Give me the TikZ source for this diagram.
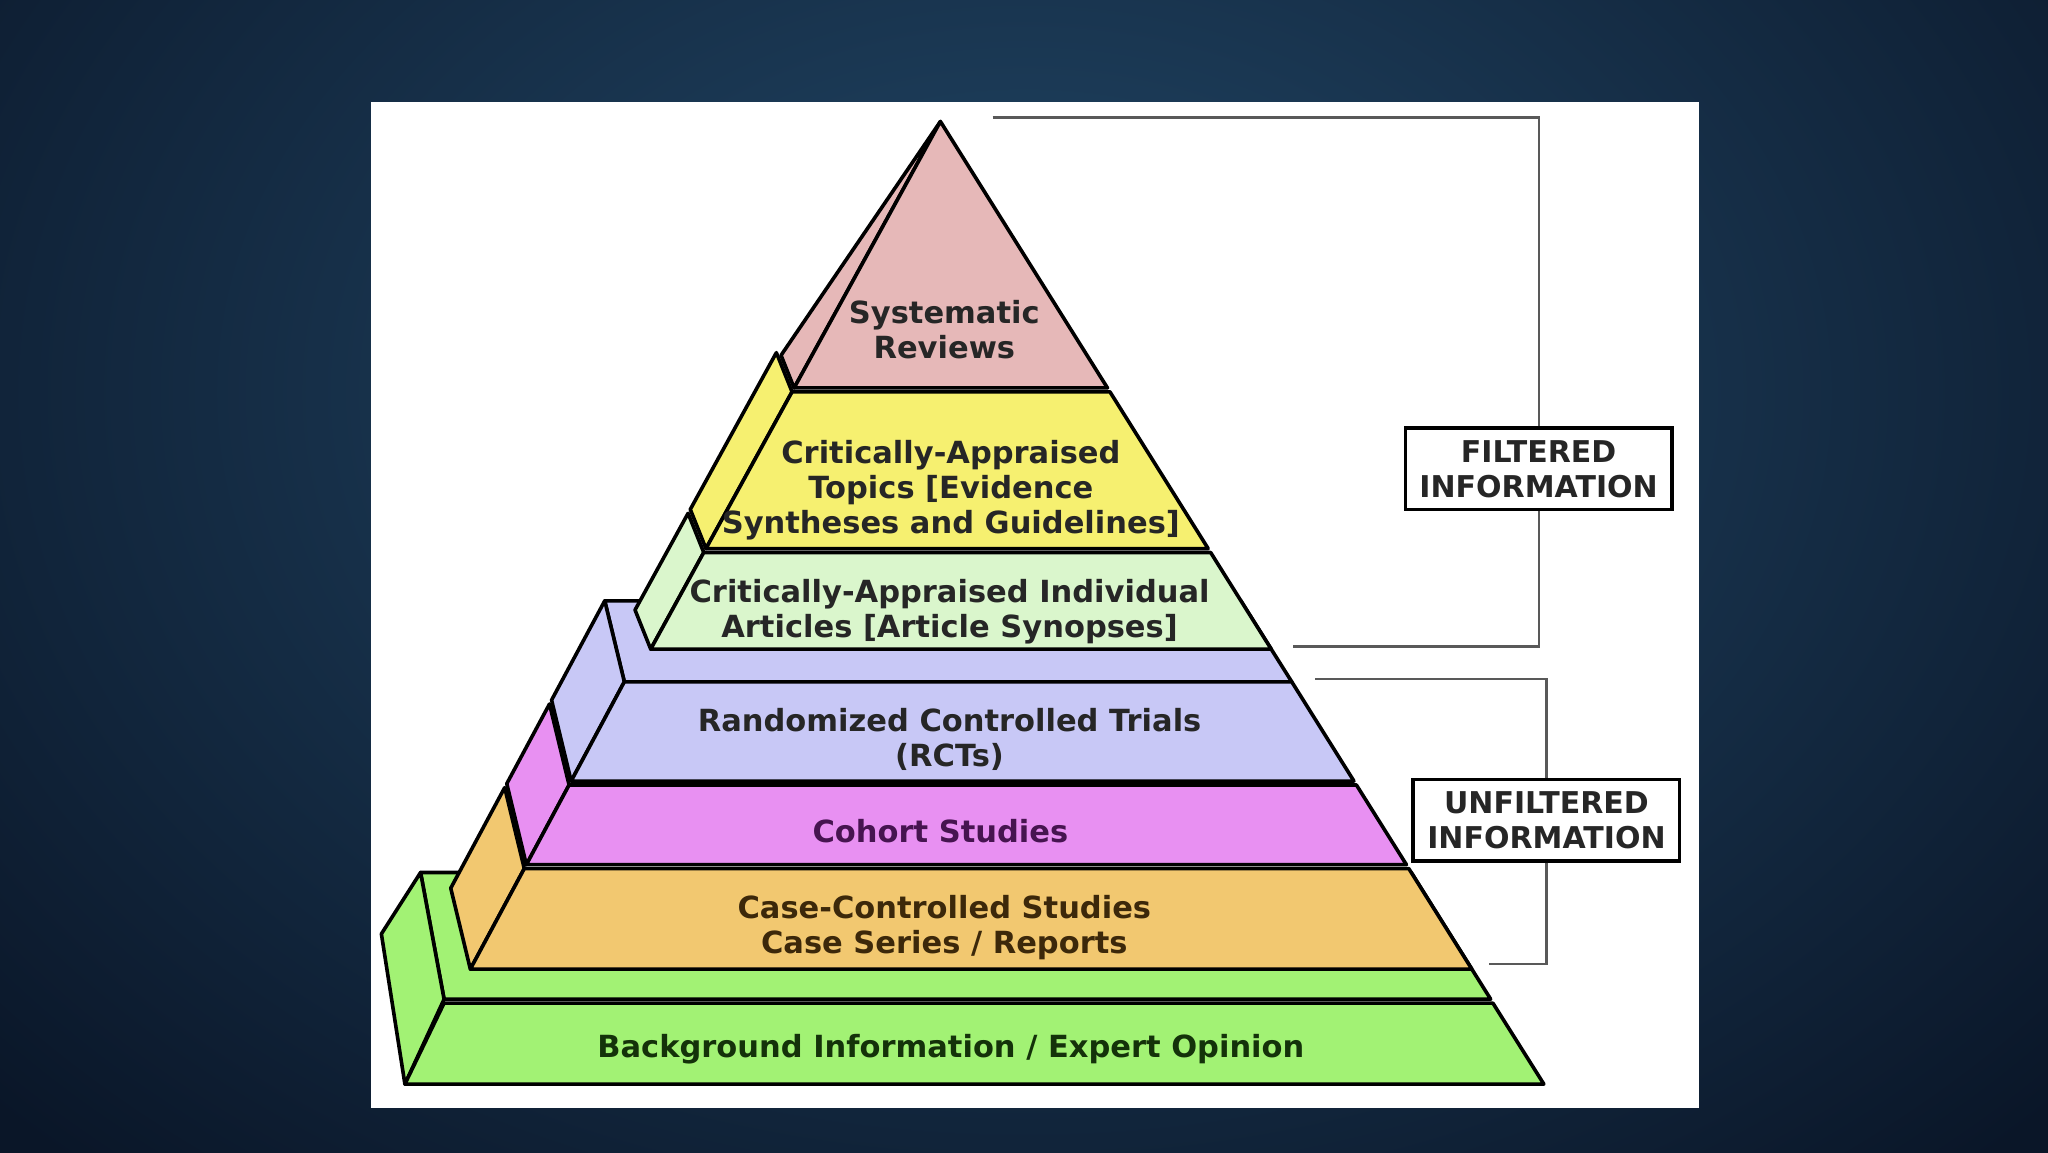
\documentclass[tikz,border=0pt]{standalone}
\usepackage{fontspec}
\setmainfont{DejaVu Sans}
\begin{document}
\begin{tikzpicture}[x=1.30612pt,y=-1.30612pt,
  face/.style={draw=black,line width=3.6pt,line join=round},
  lab/.style={font=\bfseries\fontsize{30.5}{35}\selectfont,align=center,text=black!85},
  brk/.style={draw=black!65,line width=2.2pt},
  box/.style={draw=black,line width=3.6pt,fill=white,font=\bfseries\fontsize{30}{35}\selectfont,align=center,inner xsep=14pt,inner ysep=12pt,text=black!85}]
\definecolor{cSR}{HTML}{E6B8B8}
\definecolor{cCAT}{HTML}{F6F070}
\definecolor{cCAI}{HTML}{DAF6CC}
\definecolor{cRCT}{HTML}{C8C8F6}
\definecolor{cCO}{HTML}{E890F2}
\definecolor{cCA}{HTML}{F2C870}
\definecolor{cBG}{HTML}{A2F274}
\useasboundingbox (0,0) rectangle (1568,882);
\shade[inner color={rgb,255:red,34;green,72;blue,104},outer color={rgb,255:red,10;green,22;blue,40}] (-300,-500) rectangle (1868,1100);
\fill[white] (284,78) rectangle (1301,848);
% background group
\filldraw[face,fill=cBG] (340,765) -- (1141.3,765) -- (1080.5,668) -- (322,668) -- cycle;
\filldraw[face,fill=cBG] (340,765) -- (310,830) -- (292,715) -- (322,668) -- cycle;
\filldraw[face,fill=cBG] (340,768) -- (1143,768) -- (1182,830) -- (310,830) -- cycle;
\node[lab,text={rgb,255:red,20;green,50;blue,10}] (bg) at (728,803) {Background Information / Expert Opinion};
% lower group
\filldraw[face,fill=cRCT] (478,522) -- (989,522) -- (950,460) -- (463,460) -- cycle;
\filldraw[face,fill=cRCT] (478,522) -- (437.3,598) -- (422.3,536) -- (463,460) -- cycle;
\filldraw[face,fill=cCO] (435.7,601) -- (403,662) -- (388,600) -- (420.7,539) -- cycle;
\filldraw[face,fill=cCA] (401.4,665) -- (360.1,742) -- (345.1,680) -- (386.4,603) -- cycle;
\filldraw[face,fill=cRCT] (478,522) -- (989,522) -- (1036.6,598) -- (437.3,598) -- cycle;
\filldraw[face,fill=cCO] (435.7,601) -- (1038.5,601) -- (1076.8,662) -- (403,662) -- cycle;
\filldraw[face,fill=cCA] (401.4,665) -- (1078.6,665) -- (1126.9,742) -- (360.1,742) -- cycle;
\node[lab] (rct) at (727,566) {Randomized Controlled Trials\\(RCTs)};
\node[lab,text={rgb,255:red,70;green,20;blue,80}] (co) at (720,636) {Cohort Studies};
\node[lab,text={rgb,255:red,60;green,40;blue,10}] (ca) at (723,710) {Case-Controlled Studies\\Case Series / Reports};
% upper group
\filldraw[face,fill=cSR] (720,93) -- (608,297) -- (598,272) -- cycle;
\filldraw[face,fill=cCAT] (606.4,300) -- (540.5,420) -- (528.5,390) -- (594.4,270) -- cycle;
\filldraw[face,fill=cCAI] (538.8,423) -- (498.2,497) -- (486.2,467) -- (526.8,393) -- cycle;
\filldraw[face,fill=cSR] (720,93) -- (847.9,297) -- (608,297) -- cycle;
\filldraw[face,fill=cCAT] (606.4,300) -- (849.8,300) -- (925,420) -- (540.5,420) -- cycle;
\filldraw[face,fill=cCAI] (538.8,423) -- (926.9,423) -- (973.3,497) -- (498.2,497) -- cycle;
\node[lab] (sr) at (723,252) {Systematic\\Reviews};
\node[lab] (cat) at (728,375) {Critically-Appraised\\Topics [Evidence\\Syntheses and Guidelines]};
\node[lab] (cai) at (727,468) {Critically-Appraised Individual\\Articles [Article Synopses]};
% brackets
\node[box] (fi) at (1178,359) {FILTERED\\INFORMATION};
\node[box] (ui) at (1184,628) {UNFILTERED\\INFORMATION};
\coordinate (f1) at (760,90); \coordinate (f2) at (990,495);
\coordinate (u1) at (1007,520); \coordinate (u2) at (1140,738);
\draw[brk] (f1) -| (fi.north);
\draw[brk] (fi.south) |- (f2);
\draw[brk] (u1) -| (ui.north);
\draw[brk] (ui.south) |- (u2);
\end{tikzpicture}
\end{document}
